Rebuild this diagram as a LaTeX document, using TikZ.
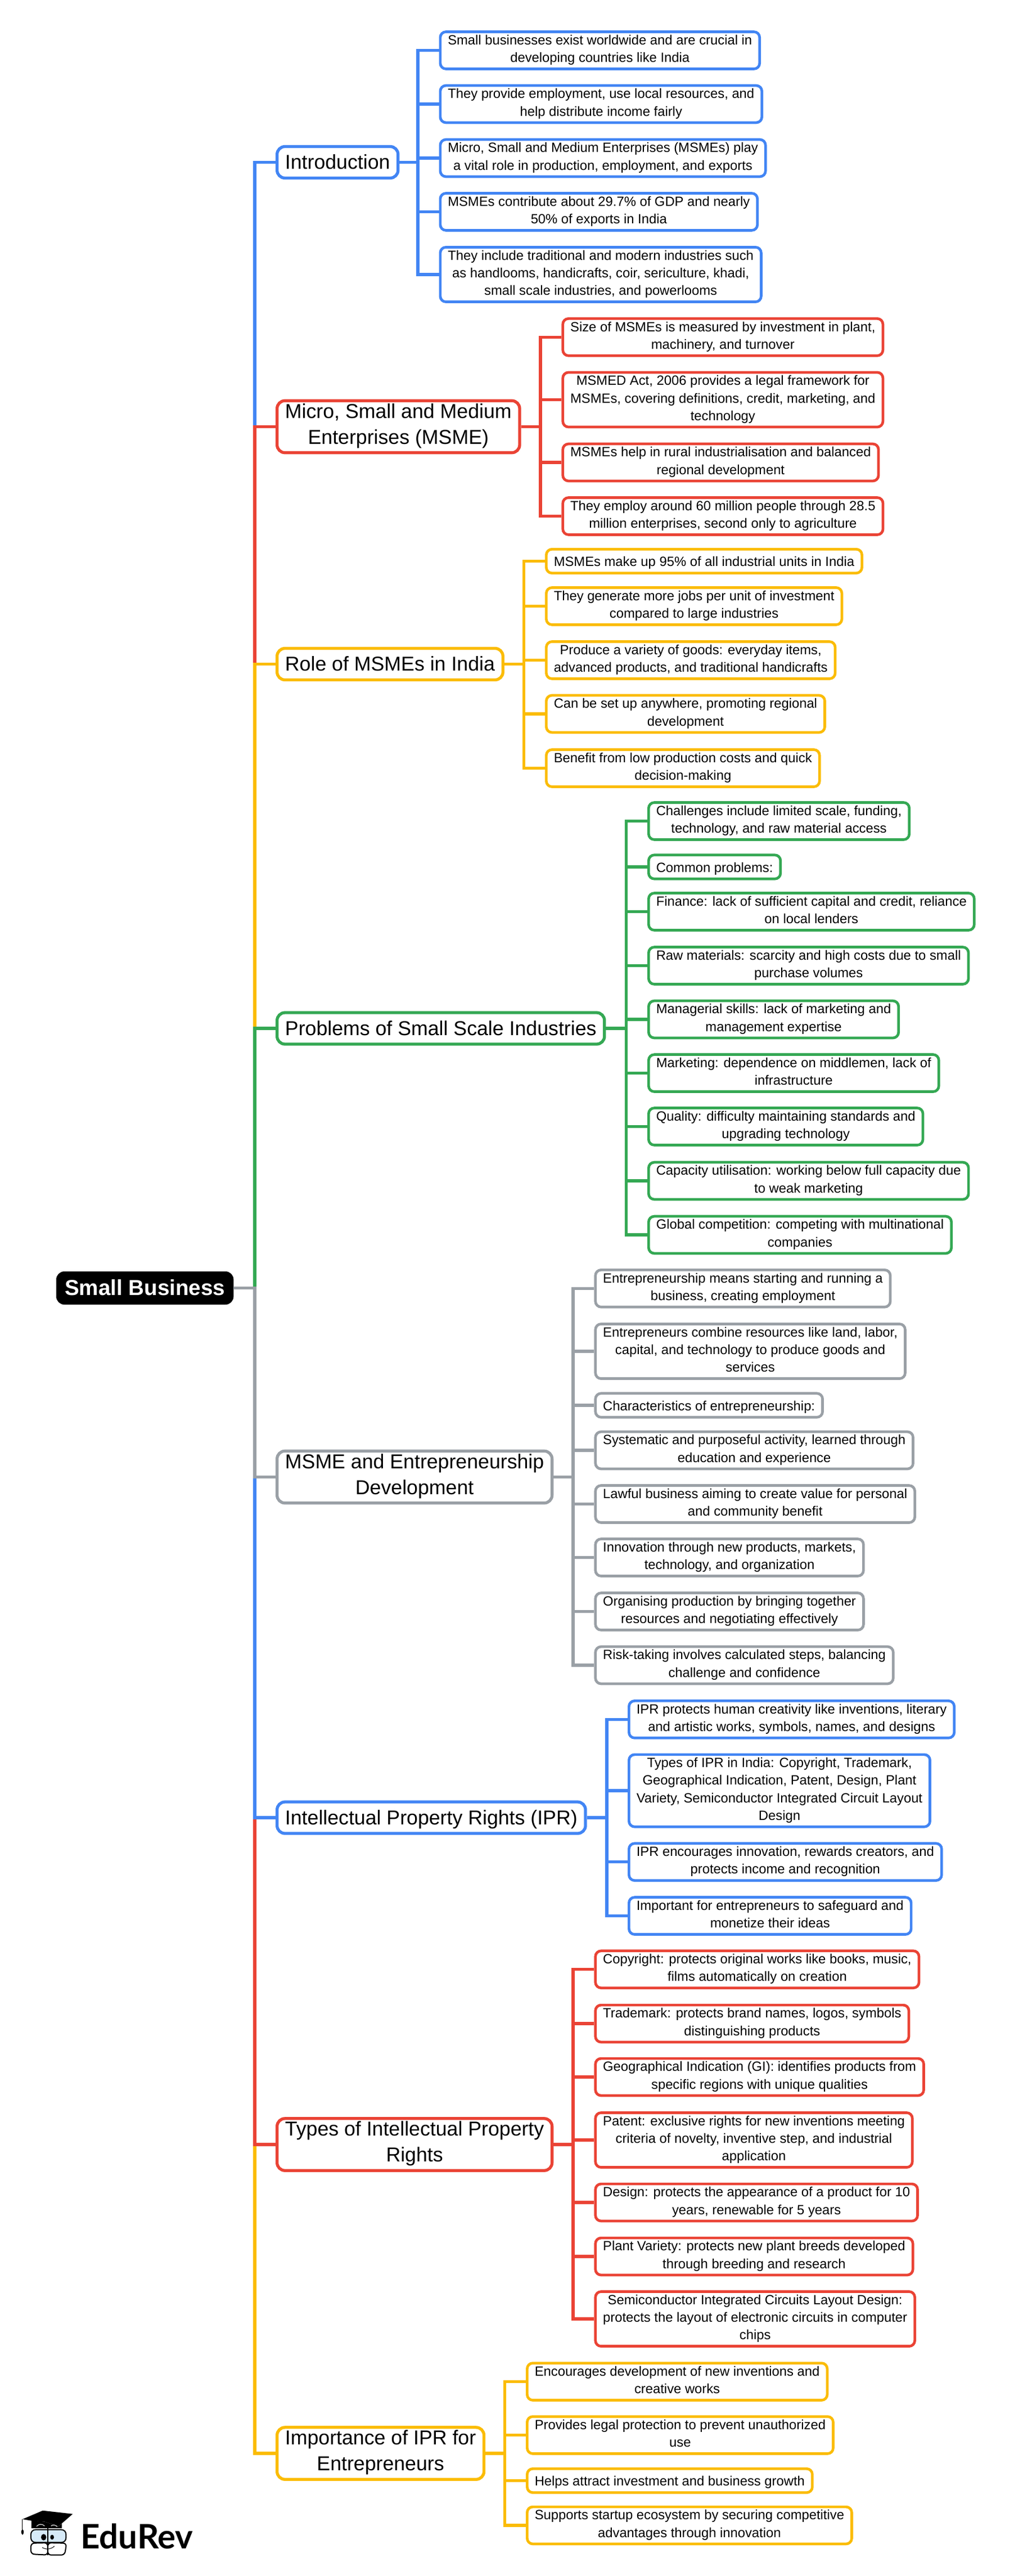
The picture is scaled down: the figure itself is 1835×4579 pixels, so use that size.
\documentclass[tikz,border=0pt]{standalone}
\usepackage{fontspec}
\usepackage{xcolor}
\usepackage{tikz}
\setmainfont{Liberation Sans}
\newfontfamily\logofont{Lato}
\definecolor{brandblue}{RGB}{66, 133, 244}
\definecolor{brandred}{RGB}{234, 67, 53}
\definecolor{brandyellow}{RGB}{251, 188, 4}
\definecolor{brandgreen}{RGB}{52, 168, 83}
\definecolor{brandgray}{RGB}{154, 160, 166}
\definecolor{lensblue}{RGB}{214, 234, 248}
\newcommand{\boxstrut}[1]{\rule[-#1\baselineskip]{0pt}{\baselineskip}}

\begin{document}
\begin{tikzpicture}[
  x=1pt, y=-1pt,
  rootbox/.style={
    rectangle, rounded corners=14pt, draw=black, fill=black, text=white,
    line width=1pt, inner xsep=14.5pt, inner ysep=4.5pt, align=center, anchor=west,
    font=\fontsize{38.6}{49}\selectfont\bfseries,
    execute at begin node=\boxstrut{.23}, execute at end node=\boxstrut{.23}
  },
  topic/.style={
    rectangle, rounded corners=14pt, draw=#1, fill=white,
    line width=5.3pt, inner xsep=14.3pt, inner ysep=5pt, align=center, anchor=west,
    font=\fontsize{35.7}{46}\selectfont,
    execute at begin node=\boxstrut{.23}, execute at end node=\boxstrut{.23}
  },
  leaf/.style={
    rectangle, rounded corners=10pt, draw=#1, fill=white,
    line width=4.7pt, inner xsep=13.4pt, inner ysep=5.6pt, align=center, anchor=west,
    font=\fontsize{23.8}{31.2}\selectfont,
    execute at begin node=\boxstrut{.2}, execute at end node=\boxstrut{.2}
  },
  link/.style={draw=#1, line width=5.5pt},
]
\useasboundingbox (0,0) rectangle (1835,4579);

\def\colTopic{490}

\node[rootbox] (root) at (100, 2289.5) {Small Business};
\coordinate (trunk) at (453, 2289.5);

% 1. Topics
\node[topic=brandblue]   (intro) at (\colTopic, 288.5)  {Introduction};
\node[topic=brandred]    (msme)  at (\colTopic, 758.5)  {Micro, Small and Medium\\Enterprises (MSME)};
\node[topic=brandyellow] (role)  at (\colTopic, 1180.5) {Role of MSMEs in India};
\node[topic=brandgreen]  (probs) at (\colTopic, 1828)   {Problems of Small Scale Industries};
\node[topic=brandgray]   (entre) at (\colTopic, 2625.5) {MSME and Entrepreneurship\\Development};
\node[topic=brandblue]   (ipr)   at (\colTopic, 3231)   {Intellectual Property Rights (IPR)};
\node[topic=brandred]    (types) at (\colTopic, 3812)   {Types of Intellectual Property\\Rights};
\node[topic=brandyellow] (imp)   at (\colTopic, 4361)   {Importance of IPR for\\Entrepreneurs};

% Trunk: far branches first, so the near ones lie on top
\draw[link=brandblue]   (trunk) -- (trunk |- intro.west) -- (intro.west);
\draw[link=brandred]    (trunk) -- (trunk |- msme.west)  -- (msme.west);
\draw[link=brandyellow] (trunk) -- (trunk |- role.west)  -- (role.west);
\draw[link=brandgreen]  (trunk) -- (trunk |- probs.west) -- (probs.west);
\draw[link=brandyellow] (trunk) -- (trunk |- imp.west)   -- (imp.west);
\draw[link=brandred]    (trunk) -- (trunk |- types.west) -- (types.west);
\draw[link=brandblue]   (trunk) -- (trunk |- ipr.west)   -- (ipr.west);
\draw[link=brandgray]   (root.east) -- (trunk) -- (trunk |- entre.west) -- (entre.west);

% 2. Introduction
\coordinate (busA) at (743, 288.5);
\def\colA{780.5}
\node[leaf=brandblue] (introA) at (\colA, 89.5)  {Small businesses exist worldwide and are crucial in\\developing countries like India};
\node[leaf=brandblue] (introB) at (\colA, 185)   {They provide employment, use local resources, and\\help distribute income fairly};
\node[leaf=brandblue] (introC) at (\colA, 281)   {Micro, Small and Medium Enterprises (MSMEs) play\\a vital role in production, employment, and exports};
\node[leaf=brandblue] (introD) at (\colA, 376.5) {MSMEs contribute about 29.7\% of GDP and nearly\\50\% of exports in India};
\node[leaf=brandblue] (introE) at (\colA, 488)   {They include traditional and modern industries such\\as handlooms, handicrafts, coir, sericulture, khadi,\\small scale industries, and powerlooms};
\draw[link=brandblue] (intro.east) -- (busA) -- (busA |- introA.west) -- (introA.west);
\draw[link=brandblue] (busA) -- (busA |- introB.west) -- (introB.west);
\draw[link=brandblue] (busA) -- (busA |- introC.west) -- (introC.west);
\draw[link=brandblue] (busA) -- (busA |- introD.west) -- (introD.west);
\draw[link=brandblue] (busA) -- (busA |- introE.west) -- (introE.west);

% 3. Micro, Small and Medium Enterprises
\coordinate (busB) at (961, 758.5);
\def\colB{998.4}
\node[leaf=brandred] (msmeA) at (\colB, 599.3) {Size of MSMEs is measured by investment in plant,\\machinery, and turnover};
\node[leaf=brandred] (msmeB) at (\colB, 710.5) {MSMED Act, 2006 provides a legal framework for\\MSMEs, covering definitions, credit, marketing, and\\technology};
\node[leaf=brandred] (msmeC) at (\colB, 822)   {MSMEs help in rural industrialisation and balanced\\regional development};
\node[leaf=brandred] (msmeD) at (\colB, 917.5) {They employ around 60 million people through 28.5\\million enterprises, second only to agriculture};
\draw[link=brandred] (msme.east) -- (busB) -- (busB |- msmeA.west) -- (msmeA.west);
\draw[link=brandred] (busB) -- (busB |- msmeB.west) -- (msmeB.west);
\draw[link=brandred] (busB) -- (busB |- msmeC.west) -- (msmeC.west);
\draw[link=brandred] (busB) -- (busB |- msmeD.west) -- (msmeD.west);

% 4. Role of MSMEs
\coordinate (busC) at (931.4, 1180.5);
\def\colC{969}
\node[leaf=brandyellow] (roleA) at (\colC, 997.5)  {MSMEs make up 95\% of all industrial units in India};
\node[leaf=brandyellow] (roleB) at (\colC, 1077.5) {They generate more jobs per unit of investment\\compared to large industries};
\node[leaf=brandyellow] (roleC) at (\colC, 1173.5) {Produce a variety of goods: everyday items,\\advanced products, and traditional handicrafts};
\node[leaf=brandyellow] (roleD) at (\colC, 1269)   {Can be set up anywhere, promoting regional\\development};
\node[leaf=brandyellow] (roleE) at (\colC, 1365.5) {Benefit from low production costs and quick\\decision-making};
\draw[link=brandyellow] (role.east) -- (busC) -- (busC |- roleA.west) -- (roleA.west);
\draw[link=brandyellow] (busC) -- (busC |- roleB.west) -- (roleB.west);
\draw[link=brandyellow] (busC) -- (busC |- roleC.west) -- (roleC.west);
\draw[link=brandyellow] (busC) -- (busC |- roleD.west) -- (roleD.west);
\draw[link=brandyellow] (busC) -- (busC |- roleE.west) -- (roleE.west);

% 5. Problems of small scale industries
\coordinate (busD) at (1113.6, 1828);
\def\colD{1151}
\node[leaf=brandgreen] (probsA) at (\colD, 1459.5) {Challenges include limited scale, funding,\\technology, and raw material access};
\node[leaf=brandgreen] (probsB) at (\colD, 1541)   {Common problems:};
\node[leaf=brandgreen] (probsC) at (\colD, 1620.5) {Finance: lack of sufficient capital and credit, reliance\\on local lenders};
\node[leaf=brandgreen] (probsD) at (\colD, 1716.5) {Raw materials: scarcity and high costs due to small\\purchase volumes};
\node[leaf=brandgreen] (probsE) at (\colD, 1812)   {Managerial skills: lack of marketing and\\management expertise};
\node[leaf=brandgreen] (probsF) at (\colD, 1907.5) {Marketing: dependence on middlemen, lack of\\infrastructure};
\node[leaf=brandgreen] (probsG) at (\colD, 2002.5) {Quality: difficulty maintaining standards and\\upgrading technology};
\node[leaf=brandgreen] (probsH) at (\colD, 2099)   {Capacity utilisation: working below full capacity due\\to weak marketing};
\node[leaf=brandgreen] (probsI) at (\colD, 2195)   {Global competition: competing with multinational\\companies};
\draw[link=brandgreen] (probs.east) -- (busD) -- (busD |- probsA.west) -- (probsA.west);
\draw[link=brandgreen] (busD) -- (busD |- probsB.west) -- (probsB.west);
\draw[link=brandgreen] (busD) -- (busD |- probsC.west) -- (probsC.west);
\draw[link=brandgreen] (busD) -- (busD |- probsD.west) -- (probsD.west);
\draw[link=brandgreen] (busD) -- (busD |- probsE.west) -- (probsE.west);
\draw[link=brandgreen] (busD) -- (busD |- probsF.west) -- (probsF.west);
\draw[link=brandgreen] (busD) -- (busD |- probsG.west) -- (probsG.west);
\draw[link=brandgreen] (busD) -- (busD |- probsH.west) -- (probsH.west);
\draw[link=brandgreen] (busD) -- (busD |- probsI.west) -- (probsI.west);

% 6. MSME and entrepreneurship
\coordinate (busE) at (1019, 2625.5);
\def\colE{1056.4}
\node[leaf=brandgray] (entreA) at (\colE, 2290.3) {Entrepreneurship means starting and running a\\business, creating employment};
\node[leaf=brandgray] (entreB) at (\colE, 2402)   {Entrepreneurs combine resources like land, labor,\\capital, and technology to produce goods and\\services};
\node[leaf=brandgray] (entreC) at (\colE, 2498)   {Characteristics of entrepreneurship:};
\node[leaf=brandgray] (entreD) at (\colE, 2578)   {Systematic and purposeful activity, learned through\\education and experience};
\node[leaf=brandgray] (entreE) at (\colE, 2673.5) {Lawful business aiming to create value for personal\\and community benefit};
\node[leaf=brandgray] (entreF) at (\colE, 2768.5) {Innovation through new products, markets,\\technology, and organization};
\node[leaf=brandgray] (entreG) at (\colE, 2864.5) {Organising production by bringing together\\resources and negotiating effectively};
\node[leaf=brandgray] (entreH) at (\colE, 2960)   {Risk-taking involves calculated steps, balancing\\challenge and confidence};
\draw[link=brandgray] (entre.east) -- (busE) -- (busE |- entreA.west) -- (entreA.west);
\draw[link=brandgray] (busE) -- (busE |- entreB.west) -- (entreB.west);
\draw[link=brandgray] (busE) -- (busE |- entreC.west) -- (entreC.west);
\draw[link=brandgray] (busE) -- (busE |- entreD.west) -- (entreD.west);
\draw[link=brandgray] (busE) -- (busE |- entreE.west) -- (entreE.west);
\draw[link=brandgray] (busE) -- (busE |- entreF.west) -- (entreF.west);
\draw[link=brandgray] (busE) -- (busE |- entreG.west) -- (entreG.west);
\draw[link=brandgray] (busE) -- (busE |- entreH.west) -- (entreH.west);

% 7. Intellectual property rights
\coordinate (busF) at (1079, 3231);
\def\colF{1116}
\node[leaf=brandblue] (iprA) at (\colF, 3056.3) {IPR protects human creativity like inventions, literary\\and artistic works, symbols, names, and designs};
\node[leaf=brandblue] (iprB) at (\colF, 3183)   {Types of IPR in India: Copyright, Trademark,\\Geographical Indication, Patent, Design, Plant\\Variety, Semiconductor Integrated Circuit Layout\\Design};
\node[leaf=brandblue] (iprC) at (\colF, 3309.7) {IPR encourages innovation, rewards creators, and\\protects income and recognition};
\node[leaf=brandblue] (iprD) at (\colF, 3405.5) {Important for entrepreneurs to safeguard and\\monetize their ideas};
\draw[link=brandblue] (ipr.east) -- (busF) -- (busF |- iprA.west) -- (iprA.west);
\draw[link=brandblue] (busF) -- (busF |- iprB.west) -- (iprB.west);
\draw[link=brandblue] (busF) -- (busF |- iprC.west) -- (iprC.west);
\draw[link=brandblue] (busF) -- (busF |- iprD.west) -- (iprD.west);

% 8. Types of intellectual property rights
\coordinate (busG) at (1019, 3812);
\def\colG{1056.4}
\node[leaf=brandred] (typesA) at (\colG, 3500.7) {Copyright: protects original works like books, music,\\films automatically on creation};
\node[leaf=brandred] (typesB) at (\colG, 3597)   {Trademark: protects brand names, logos, symbols\\distinguishing products};
\node[leaf=brandred] (typesC) at (\colG, 3692)   {Geographical Indication (GI): identifies products from\\specific regions with unique qualities};
\node[leaf=brandred] (typesD) at (\colG, 3804)   {Patent: exclusive rights for new inventions meeting\\criteria of novelty, inventive step, and industrial\\application};
\node[leaf=brandred] (typesE) at (\colG, 3915)   {Design: protects the appearance of a product for 10\\years, renewable for 5 years};
\node[leaf=brandred] (typesF) at (\colG, 4011)   {Plant Variety: protects new plant breeds developed\\through breeding and research};
\node[leaf=brandred] (typesG) at (\colG, 4122)   {Semiconductor Integrated Circuits Layout Design:\\protects the layout of electronic circuits in computer\\chips};
\draw[link=brandred] (types.east) -- (busG) -- (busG |- typesA.west) -- (typesA.west);
\draw[link=brandred] (busG) -- (busG |- typesB.west) -- (typesB.west);
\draw[link=brandred] (busG) -- (busG |- typesC.west) -- (typesC.west);
\draw[link=brandred] (busG) -- (busG |- typesD.west) -- (typesD.west);
\draw[link=brandred] (busG) -- (busG |- typesE.west) -- (typesE.west);
\draw[link=brandred] (busG) -- (busG |- typesF.west) -- (typesF.west);
\draw[link=brandred] (busG) -- (busG |- typesG.west) -- (typesG.west);

% 9. Importance of IPR
\coordinate (busH) at (897.5, 4361);
\def\colH{935}
\node[leaf=brandyellow] (impA) at (\colH, 4233.5) {Encourages development of new inventions and\\creative works};
\node[leaf=brandyellow] (impB) at (\colH, 4328.5) {Provides legal protection to prevent unauthorized\\use};
\node[leaf=brandyellow] (impC) at (\colH, 4409.5) {Helps attract investment and business growth};
\node[leaf=brandyellow] (impD) at (\colH, 4489)   {Supports startup ecosystem by securing competitive\\advantages through innovation};
\draw[link=brandyellow] (imp.east) -- (busH) -- (busH |- impA.west) -- (impA.west);
\draw[link=brandyellow] (busH) -- (busH |- impB.west) -- (impB.west);
\draw[link=brandyellow] (busH) -- (busH |- impC.west) -- (impC.west);
\draw[link=brandyellow] (busH) -- (busH |- impD.west) -- (impD.west);

% Logo
\begin{scope}[shift={(30,4460)}, x=0.3333pt, y=-0.3333pt]
  \draw[line width=1pt] (30,54) -- (30,112);
  \fill (30,108) .. controls (20,115) and (22,130) .. (30,138) .. controls (38,130) and (40,115) .. (30,108);
  \fill (30,54) -- (138,8) -- (298,26) -- (222,92) -- (150,68) -- (78,62) -- cycle;
  \fill (78,60) -- (78,102) -- (240,102) -- (240,78) -- (222,92) -- (150,68) -- cycle;
  \draw[white, line width=1pt] (105,92) .. controls (118,78) and (135,78) .. (148,90);
  \draw[white, line width=1pt] (182,90) .. controls (192,82) and (205,84) .. (216,94);
  \draw[line width=2pt, fill=white, rounded corners=6pt] (75,182) -- (75,240) -- (165,245) -- (165,180) -- cycle;
  \draw[line width=2pt, fill=white, rounded corners=6pt] (165,180) -- (165,245) -- (255,245) -- (265,182) -- cycle;
  \draw[line width=2pt, fill=lensblue, rounded corners=8pt] (75,110) rectangle (262,178);
  \draw[line width=1.5pt] (165,100) -- (165,245);
  \fill (143,150) ellipse [x radius=14, y radius=17];
  \fill (188,150) ellipse [x radius=10, y radius=13];
  \draw[line width=1pt] (135,205) .. controls (160,218) and (180,215) .. (200,198);
\end{scope}
\node[font=\fontsize{60}{62}\logofont\bfseries, anchor=base west, inner sep=0pt] (brand) at (143, 4530) {EduRev};

\end{tikzpicture}
\end{document}
